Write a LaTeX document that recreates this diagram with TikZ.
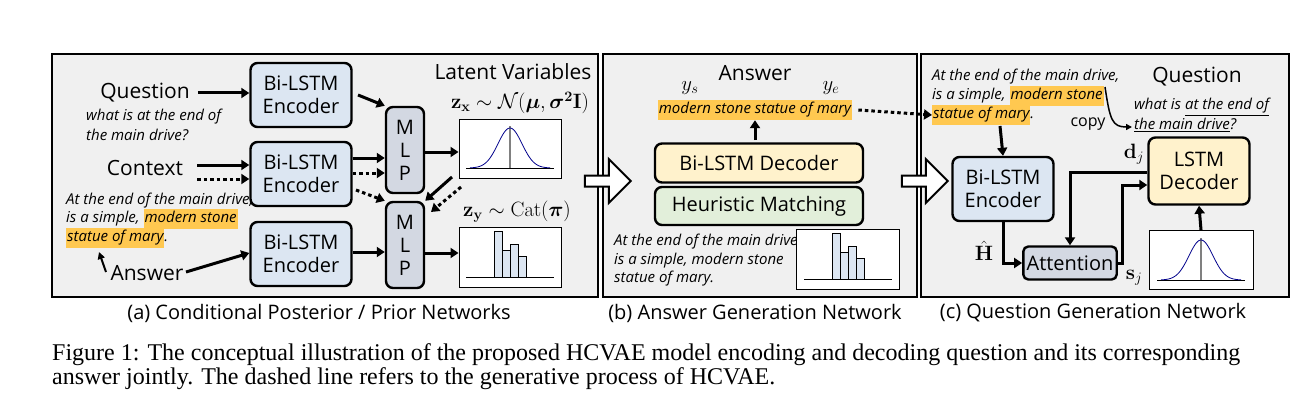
\documentclass[tikz,border=0pt]{standalone}
\usepackage{amsmath}
\usepackage{amssymb}
\usepackage{bm}
\usepackage[no-math]{fontspec}
\setmainfont{Open Sans}
\newfontfamily\capfont{Liberation Serif}
\usetikzlibrary{arrows.meta,shapes.arrows}
\definecolor{panelgray}{HTML}{F0F0F0}
\definecolor{encblue}{HTML}{DCE6F2}
\definecolor{mlpgray}{HTML}{D3D8E2}
\definecolor{decyellow}{HTML}{FFF2CC}
\definecolor{matchgreen}{HTML}{E2EFDA}
\definecolor{hl}{HTML}{FFC850}
\newcommand{\hlt}[1]{{\setlength{\fboxsep}{1pt}\colorbox{hl}{\strut#1}}}
\tikzset{
  panel/.style={draw,line width=2.2pt,fill=panelgray},
  box/.style={draw,line width=2.4pt,rounded corners=7pt,align=center,font=\fontsize{20}{23}\selectfont},
  enc/.style={box,fill=encblue,minimum width=101pt,minimum height=64pt},
  mlp/.style={box,fill=mlpgray,minimum width=38pt,minimum height=86pt},
  plotbox/.style={draw,line width=1pt,fill=white},
  lbl/.style={inner sep=0pt,font=\fontsize{21}{24}\selectfont},
  subcap/.style={inner sep=0pt,font=\fontsize{20}{23}\selectfont},
  small/.style={inner sep=0pt,anchor=west,font=\fontsize{15}{18}\selectfont\itshape},
  arr/.style={line width=3pt,-{Triangle[length=8pt,width=10pt]}},
  darr/.style={arr,dash pattern=on 3.5pt off 3pt}
}
\newcommand{\gausscurve}[2]{%
  \draw[line width=0.5pt] (#1-44,#2+49) -- (#1+44,#2+49);
  \draw[gray,line width=1.2pt] (#1,#2+49) -- (#1,#2+7);
  \draw[blue!55!black,line width=0.8pt] plot[domain=-40:40,samples=60] ({#1+\x},{#2+49-40*exp(-(\x/12)^2/2)});}
\newcommand{\histbars}[2]{%
  \draw[line width=0.5pt] (#1-44,#2+50) -- (#1+44,#2+50);
  \foreach \a/\b/\t in {-16/-8/4,-8/0/23,0/8/17,8/16/29}
    \draw[fill=encblue,line width=0.7pt] (#1+\a,#2+50) rectangle (#1+\b,#2+\t);}
\begin{document}
\begin{tikzpicture}[x=1pt,y=-1pt]
\useasboundingbox[fill=white] (0,0) rectangle (1303,417);
% panels
\draw[panel] (52,54) rectangle (598,297);
\draw[panel] (603,54) rectangle (917,297);
\draw[panel] (921,54) rectangle (1289,297);
\node (sa) [single arrow,draw,line width=2pt,fill=white,minimum height=46pt,minimum width=44pt,single arrow head extend=6pt,inner sep=1pt] at (605,181) {};
\node (sb) [single arrow,draw,line width=2pt,fill=white,minimum height=46pt,minimum width=44pt,single arrow head extend=6pt,inner sep=1pt] at (922,181) {};

% (a) posterior / prior networks
\node (q) [lbl] at (145,93) {Question};
\node (c) [lbl] at (145,168) {Context};
\node (ans) [lbl] at (147,273) {Answer};
\node [small] at (86,117) {what is at the end of};
\node [small] at (86,135) {the main drive?};
\node [small] at (66,201) {At the end of the main drive,};
\node [small] at (66,219) {is a simple, \hlt{modern stone}};
\node [small] at (66,238) {\hlt{statue of mary}.};
\node (e1) [enc] at (301,95) {Bi-LSTM\\Encoder};
\node (e2) [enc] at (301,174) {Bi-LSTM\\Encoder};
\node (e3) [enc] at (301,254) {Bi-LSTM\\Encoder};
\node (m1) [mlp] at (405,150) {M\\L\\P};
\node (m2) [mlp] at (405,245) {M\\L\\P};
\node (p1) [plotbox,minimum width=102pt,minimum height=59pt] at (510,149) {};
\node (p2) [plotbox,minimum width=102pt,minimum height=60pt] at (510,257) {};
\gausscurve{510}{119}
\histbars{510}{227}
\node [lbl] at (513,72) {Latent Variables};
\node [inner sep=0pt] at (520,103) {\fontsize{20}{23}\selectfont$\mathbf{z_x}\sim\mathcal{N}(\bm{\mu},\bm{\sigma}^{\mathbf{2}}\mathbf{I})$};
\node [inner sep=0pt] at (517,212) {\fontsize{20}{23}\selectfont$\mathbf{z_y}\sim\mathrm{Cat}(\bm{\pi})$};
\draw[arr] (q.east)+(8,0) -- (e1.west|-q);
\draw[arr] (197,165) -- (e2.west|-0,165);
\draw[darr] (197,179) -- (e2.west|-0,179);
\draw[arr] (186,272) -- (e3.west|-0,253);
\draw[line width=2pt,-{Triangle[length=7pt,width=7pt]}] (106,272) -- (99,252);
\draw[arr] (358,95) -- (m1.north west);
\draw[arr] (e2.east|-0,158) -- (m1.west|-0,158);
\draw[darr] (e2.east|-0,173) -- (m1.west|-0,173);
\draw[darr] (356,190) -- (m2.north west);
\draw[arr] (e3.east|-0,252) -- (m2.west|-0,252);
\draw[arr] (m1.east|-0,152) -- (p1.west|-0,152);
\draw[arr] (m2.east|-0,253) -- (p2.west|-0,253);
\draw[arr] (452,177) -- (m2.north east);
\draw[darr] (461,187) -- (431,212);
\node [subcap] at (319,313) {(a) Conditional Posterior / Prior Networks};

% (b) answer generation network
\node [lbl] at (755,73) {Answer};
\node [inner sep=0pt] at (690,88) {\fontsize{20}{22}\selectfont$y_s$};
\node [inner sep=0pt] at (831,88) {\fontsize{20}{22}\selectfont$y_e$};
\node (span) [small,anchor=center] at (755,110) {\hlt{modern stone statue of mary}};
\node (d1) [box,fill=decyellow,minimum width=208pt,minimum height=39pt] at (759,163) {Bi-LSTM Decoder};
\node (hm) [box,fill=matchgreen,minimum width=208pt,minimum height=38pt] at (759,206) {Heuristic Matching};
\draw[arr] (755,140) -- (span.south);
\node [small] at (614,242) {At the end of the main drive,};
\node [small] at (614,261) {is a simple, modern stone};
\node [small] at (614,279) {statue of mary.};
\node (p3) [plotbox,minimum width=103pt,minimum height=60pt] at (848,259) {};
\histbars{848}{229}
\node [subcap] at (755,313) {(b) Answer Generation Network};

% (c) question generation network
\node [small] at (932,77) {At the end of the main drive,};
\node [small] at (932,96) {is a simple, \hlt{modern stone}};
\node (ctx) [small] at (932,115) {\hlt{statue of mary}.};
\draw[darr] (span.east)+(6,0) -- (ctx.west);
\node [lbl] at (1197,77) {Question};
\node [small] at (1134,107) {what is \underline{at the end of}};
\node [small] at (1134,125) {\underline{the main drive}?};
\node [lbl,font=\fontsize{16}{19}\selectfont] at (1088,124) {copy};
\draw[line width=1.5pt,-{Triangle[length=6pt,width=6pt]}] (1105,87) .. controls (1110,120) and (1112,127) .. (1132,127);
\node (e4) [enc] at (1003,189) {Bi-LSTM\\Encoder};
\node (ld) [box,fill=decyellow,minimum width=101pt,minimum height=67pt] at (1199,171) {LSTM\\Decoder};
\node (att) [box,fill=mlpgray,rounded corners=5pt,minimum width=93pt,minimum height=33pt] at (1070,263) {Attention};
\node (p4) [plotbox,minimum width=104pt,minimum height=59pt] at (1201,260) {};
\gausscurve{1201}{231}
\draw[arr] (1000,126) -- (e4.north);
\draw[arr] (e4.south) |- (att.west);
\draw[arr] (ld.west|-0,172) -| (att.north);
\draw[arr] (att.east) -- (1122,263) |- (ld.west|-0,185);
\draw[arr] (p4.north) -- (ld.south);
\node [inner sep=0pt] at (984,251) {\fontsize{20}{22}\selectfont$\hat{\mathbf{H}}$};
\node [inner sep=0pt] at (1134,154) {\fontsize{20}{22}\selectfont$\mathbf{d}_j$};
\node [inner sep=0pt] at (1134,278) {\fontsize{20}{22}\selectfont$\mathbf{s}_j$};
\node [subcap] at (1093,313) {(c) Question Generation Network};

% figure caption
\node [anchor=west,inner sep=0pt,font=\capfont\fontsize{24}{28}\selectfont] at (52,355) {Figure 1: The conceptual illustration of the proposed HCVAE model encoding and decoding question and its corresponding};
\node [anchor=west,inner sep=0pt,font=\capfont\fontsize{24}{28}\selectfont] at (52,379) {answer jointly. The dashed line refers to the generative process of HCVAE.};
\end{tikzpicture}
\end{document}
